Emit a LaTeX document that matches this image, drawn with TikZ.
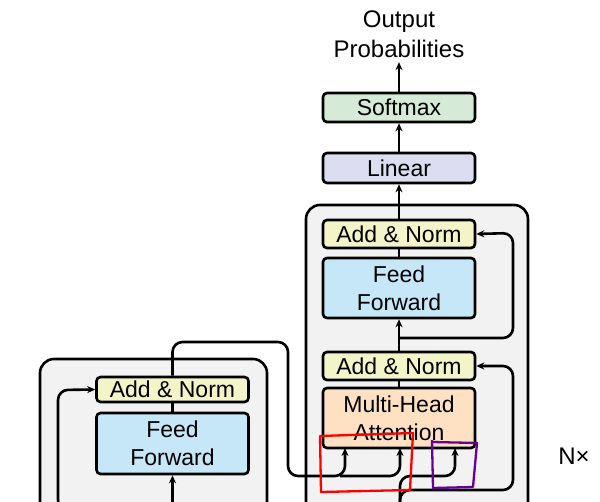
\documentclass[tikz,border=0pt]{standalone}
\usepackage{fontspec}
\setmainfont{Liberation Sans}
\usetikzlibrary{arrows.meta}
\definecolor{cgray}{HTML}{F2F2F2}
\definecolor{cyel}{HTML}{F3F5C8}
\definecolor{cblue}{HTML}{C5E7F7}
\definecolor{cpeach}{HTML}{FDE1C2}
\definecolor{cgreen}{HTML}{D5EBD8}
\definecolor{clav}{HTML}{DCDDF0}
\begin{document}
\begin{tikzpicture}[x=1pt,y=-1pt,line width=2.6pt,
  font=\fontsize{23}{27}\selectfont,
  two/.style={font=\fontsize{23}{28}\selectfont},
  blk/.style={draw,rounded corners=4pt,minimum width=152pt,inner sep=0pt,align=center},
  arr/.style={-{Stealth[length=8pt,width=7pt]},rounded corners=10pt}]
\useasboundingbox (0,0) rectangle (600,502);
% block backgrounds
\draw[fill=cgray,rounded corners=14pt] (306,205) rectangle (528,520);
\draw[fill=cgray,rounded corners=14pt] (40,359) rectangle (267,520);
% decoder nodes
\node[blk,fill=cgreen,minimum height=29pt] (soft) at (399,107.5) {Softmax};
\node[blk,fill=clav,minimum height=30pt] (lin) at (399,168) {Linear};
\node[blk,fill=cyel,minimum height=28pt] (an2) at (399,234) {Add \& Norm};
\node[blk,fill=cblue,minimum height=60pt,two] (ff) at (399,288) {Feed\\Forward};
\node[blk,fill=cyel,minimum height=28pt] (an1) at (399,366) {Add \& Norm};
\node[blk,fill=cpeach,minimum height=60pt,two] (mha) at (399,418) {Multi-Head\\Attention};
\node[align=center,font=\fontsize{24}{30}\selectfont] (out) at (399,34) {Output\\Probabilities};
\node[font=\fontsize{24}{28}\selectfont] (nx) at (574,456) {N×};
% encoder nodes
\node[blk,fill=cyel,minimum height=25pt] (ean) at (172.5,389.5) {Add \& Norm};
\node[blk,fill=cblue,minimum height=61pt,two] (eff) at (172.5,443.5) {Feed\\Forward};
\coordinate (b0) at (400,520);
\coordinate (e0) at (172.5,520);
% connectors
\draw[arr] (soft.north) -- (out.south);
\draw[arr] (lin.north) -- (soft.south);
\draw[arr] (an2.north) -- (lin.south);
\draw[arr] (an1.north) -- (ff.south);
\draw (ff.north) -- (an2.south);
\draw (mha.north) -- (an1.south);
\draw[arr] (400,338) -- (513,338) -- (513,233) -- (an2.east);
\draw[arr] (b0) -- (400,490) -- (513,490) -- (513,366) -- (an1.east);
\draw[arr] (b0) -- (400,476) -- (455,476) -- (455,448);
% encoder connectors
\draw (eff.north) -- (ean.south);
\draw[arr] (e0) -- (eff.south);
\draw[arr] (172.5,510) -- (58,510) -- (58,390) -- (ean.west);
\draw[arr] (ean.north) -- (172.5,342) -- (288,342) -- (288,476) -- (345,476) -- (345,448);
\draw[arr] (340,476) -- (400,476) -- (400,448);
% hand-drawn marks
\draw[red,line width=2.3pt,line join=round] (320,436) -- (413,433) -- (410,490) -- (321,492) -- cycle;
\draw[violet!80!blue,line width=2.3pt,line join=round] (432,442) -- (477,443) -- (473,487) -- (433,488) -- (432,440);
\end{tikzpicture}
\end{document}
